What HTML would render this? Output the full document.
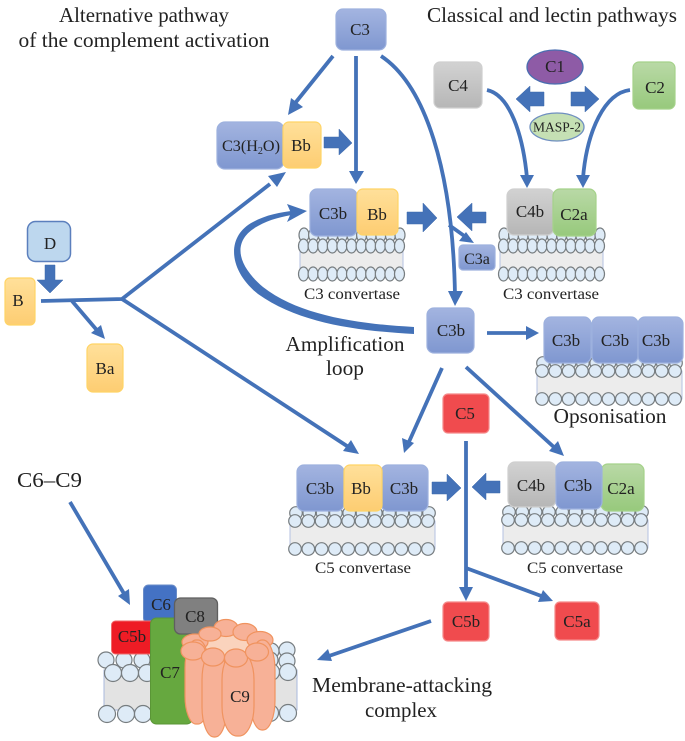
<!DOCTYPE html>
<html><head><meta charset="utf-8"><style>
html,body{margin:0;padding:0;background:#fff}
svg{display:block;filter:blur(.35px)}
text{font-family:"Liberation Serif",serif;fill:#222;text-anchor:middle}
.l{font-size:21px}.c{font-size:16px}.b{font-size:17px}
.ln{fill:none;stroke:#4472b8;stroke-width:3.8}
.ar{fill:#4472b8;stroke:none}
.blk{fill:#4472b8;stroke:#3d68ab;stroke-width:.5}
.lip{fill:#deebf7;stroke:#777d80;stroke-width:1.2}
.bl{fill:url(#gb);stroke:#9db1de;stroke-width:1.2}
.or{fill:url(#go);stroke:#ffd466;stroke-width:1.2}
.gr{fill:url(#gg);stroke:#cfcfcf;stroke-width:1.2}
.gn{fill:url(#gn);stroke:#a5d28a;stroke-width:1.2}
.rd{fill:#f04b4e;stroke:#f58a8a;stroke-width:1.2}
.pk{fill:#f7b197;stroke:#f0935f;stroke-width:1.2}
</style></head><body>
<svg width="685" height="741" viewBox="0 0 685 741" xmlns="http://www.w3.org/2000/svg">
<defs>
<linearGradient id="gb" x1="0" y1="0" x2="0" y2="1"><stop offset="0" stop-color="#a3b4e0"/><stop offset="1" stop-color="#7f97d0"/></linearGradient>
<linearGradient id="go" x1="0" y1="0" x2="0" y2="1"><stop offset="0" stop-color="#ffe09a"/><stop offset="1" stop-color="#fdcd72"/></linearGradient>
<linearGradient id="gg" x1="0" y1="0" x2="0" y2="1"><stop offset="0" stop-color="#d2d2d2"/><stop offset="1" stop-color="#b6b6b6"/></linearGradient>
<linearGradient id="gn" x1="0" y1="0" x2="0" y2="1"><stop offset="0" stop-color="#b9d9a6"/><stop offset="1" stop-color="#97c97c"/></linearGradient>
<g id="r3">
<ellipse class="lip" cx="0" cy="0" rx="5" ry="7"/><ellipse class="lip" cx="9.6" cy="0" rx="5" ry="7"/><ellipse class="lip" cx="19.2" cy="0" rx="5" ry="7"/><ellipse class="lip" cx="28.8" cy="0" rx="5" ry="7"/><ellipse class="lip" cx="38.4" cy="0" rx="5" ry="7"/><ellipse class="lip" cx="48" cy="0" rx="5" ry="7"/><ellipse class="lip" cx="57.6" cy="0" rx="5" ry="7"/><ellipse class="lip" cx="67.2" cy="0" rx="5" ry="7"/><ellipse class="lip" cx="76.8" cy="0" rx="5" ry="7"/><ellipse class="lip" cx="86.4" cy="0" rx="5" ry="7"/><ellipse class="lip" cx="96" cy="0" rx="5" ry="7"/>
</g>
<g id="m3">
<rect x="0" y="0" width="103" height="28" fill="#ececec" stroke="#b4c2e2" stroke-width="1"/>
<use href="#r3" x="4" y="-11"/><use href="#r3" x="3.500" y="0"/><use href="#r3" x="3.500" y="28"/>
</g>
<g id="r5">
<circle class="lip" cx="0" cy="0" r="6.3"/><circle class="lip" cx="13.3" cy="0" r="6.3"/><circle class="lip" cx="26.6" cy="0" r="6.3"/><circle class="lip" cx="39.9" cy="0" r="6.3"/><circle class="lip" cx="53.2" cy="0" r="6.3"/><circle class="lip" cx="66.5" cy="0" r="6.3"/><circle class="lip" cx="79.8" cy="0" r="6.3"/><circle class="lip" cx="93.1" cy="0" r="6.3"/><circle class="lip" cx="106.4" cy="0" r="6.3"/><circle class="lip" cx="119.7" cy="0" r="6.3"/><circle class="lip" cx="133" cy="0" r="6.3"/>
</g>
<g id="m5">
<rect x="0" y="0" width="145" height="28" fill="#ececec" stroke="#b4c2e2" stroke-width="1"/>
<use href="#r5" x="6" y="-8"/><use href="#r5" x="5" y="0"/><use href="#r5" x="5" y="28"/>
</g>
</defs>

<!-- titles -->
<text class="l" x="144" y="22" textLength="170" lengthAdjust="spacingAndGlyphs">Alternative pathway</text>
<text class="l" x="144" y="47" textLength="251" lengthAdjust="spacingAndGlyphs">of the complement activation</text>
<text class="l" x="552" y="22" textLength="250" lengthAdjust="spacingAndGlyphs">Classical and lectin pathways</text>

<!-- membranes -->
<use href="#m3" x="300" y="246"/>
<use href="#m3" x="500" y="246"/>
<use href="#m5" x="537" y="371"/>
<use href="#m5" x="290" y="521"/>
<use href="#m5" x="503" y="520"/>

<!-- connectors -->
<path class="ln" d="M333 56 L292 107"/><path class="ar" d="M288 115 L291 98 L303 107Z"/>
<path class="ln" d="M356 56 L356 176"/><path class="ar" d="M356 184 L349 171 L364 171Z"/>
<path class="ln" d="M381 56 C425 85 453 170 455 296"/><path class="ar" d="M455 306 L448 291 L463 291Z"/>
<path class="ln" d="M449 225 L470 240"/><path class="ar" d="M474 243 L459 241 L466 232Z"/>
<path class="ln" d="M487 90 C510 95 523 135 527 178"/><path class="ar" d="M527 188 L520 175 L534 175Z"/>
<path class="ln" d="M630 90 C605 93 587 130 583 178"/><path class="ar" d="M583 188 L576 175 L590 175Z"/>
<path class="ln" d="M41 301 L122 299 L270 184"/><path class="ar" d="M286 172 L277 187 L268 176Z"/>
<path class="ln" d="M122 299 L350 448"/><path class="ar" d="M359 454 L343 451 L351 440Z"/>
<path class="ln" d="M72 301 L101 335"/><path class="ar" d="M105 339 L91 333 L101 325Z"/>
<path d="M414 327 C360 324 300 316 263 287 C236 264 232 240 258 226 C270 219 282 217 296 214 L296 210.500 C280 212 266 215 253 222 C226 236 228 270 258 294 C300 324 360 331 414 334Z" fill="#4472b8"/>
<path class="ar" d="M307 211 L287 222 L291 213 L287 204Z"/>
<path class="ln" d="M487 333 L530 333"/><path class="ar" d="M539 333 L526 326 L526 340Z"/>
<path class="ln" d="M442 368 L408 444"/><path class="ar" d="M404 453 L402 438 L414 443Z"/>
<path class="ln" d="M466 367 L556 449"/><path class="ar" d="M564 456 L549 451 L558 441Z"/>
<path class="ln" d="M466 441 L466 592"/><path class="ar" d="M466 601 L459 587 L473 587Z"/>
<path class="ln" d="M466 568 L544 597"/><path class="ar" d="M553 601 L538 602 L543 590Z"/>
<path class="ln" d="M70 502 L126 597"/><path class="ar" d="M130 605 L118 596 L129 589Z"/>
<path class="ln" d="M431 621 L326 657"/><path class="ar" d="M317 660 L328 649 L332 661Z"/>

<!-- block arrows -->
<path class="blk" d="M45 265 H55 V280 H63 L50 293 L37 280 H45Z"/>
<path class="blk" d="M324 137 H339 V129 L352 143 L339 155 V148 H324Z"/>
<path class="blk" d="M407 212 H423 V203 L437 218 L423 232 V224 H407Z"/>
<path class="blk" d="M486 212 H472 V203 L457 217 L472 231 V223 H486Z"/>
<path class="blk" d="M544 92 H530 V86 L516 99 L530 112 V106 H544Z"/>
<path class="blk" d="M571 92 H585 V86 L599 99 L585 112 V106 H571Z"/>
<path class="blk" d="M432 482 H447 V474 L461 488 L447 501 V494 H432Z"/>
<path class="blk" d="M500 481 H486 V473 L472 487 L486 500 V493 H500Z"/>

<!-- top / standalone boxes -->
<rect class="bl" x="336" y="9" width="50" height="41" rx="7"/><text class="b" x="360" y="35">C3</text>
<rect class="gr" x="434" y="62" width="48" height="46" rx="6"/><text class="b" x="458" y="91">C4</text>
<rect class="gn" x="633" y="62" width="42" height="47" rx="6"/><text class="b" x="655" y="93">C2</text>
<ellipse cx="555" cy="67" rx="28" ry="17" fill="#8e5ba6" stroke="#4a6eb0" stroke-width="1.3"/><text class="b" x="555" y="72">C1</text>
<ellipse cx="557" cy="127" rx="27" ry="14" fill="#c5e0b4" stroke="#6f8fc0" stroke-width="1.3"/><text x="557" y="131.500" font-size="13.500">MASP-2</text>

<rect class="bl" x="217" y="122" width="67" height="47" rx="8"/><text x="251" y="151" font-size="16" textLength="58" lengthAdjust="spacingAndGlyphs">C3(H<tspan font-size="10" dy="3">2</tspan><tspan dy="-3">O)</tspan></text>
<rect class="or" x="283" y="122" width="38" height="46" rx="6"/><text class="b" x="301" y="151">Bb</text>

<rect class="bl" x="310" y="189" width="47" height="47" rx="7"/><text class="b" x="333" y="219">C3b</text>
<rect class="or" x="357" y="189" width="41" height="46" rx="6"/><text class="b" x="377" y="220">Bb</text>
<rect class="gr" x="507" y="189" width="47" height="46" rx="7"/><text class="b" x="530" y="217">C4b</text>
<rect class="gn" x="553" y="189" width="43" height="47" rx="7"/><text class="b" x="574" y="220">C2a</text>
<rect class="bl" x="459" y="245" width="36" height="25" rx="4"/><text x="477" y="264" font-size="16">C3a</text>

<rect class="bl" x="427" y="308" width="47" height="45" rx="7"/><text class="b" x="451" y="336">C3b</text>
<rect class="bl" x="544" y="317" width="47" height="46" rx="7"/><text class="b" x="566" y="346">C3b</text>
<rect class="bl" x="592" y="317" width="46" height="46" rx="7"/><text class="b" x="615" y="346">C3b</text>
<rect class="bl" x="638" y="317" width="45" height="46" rx="7"/><text class="b" x="656" y="346">C3b</text>

<rect x="27.500" y="221.500" width="43" height="40" rx="8" fill="#bdd7ee" stroke="#5b7fbd" stroke-width="1.500"/><text class="b" x="50" y="249">D</text>
<rect class="or" x="5" y="278" width="30" height="47" rx="5"/><text class="b" x="18" y="306">B</text>
<rect class="or" x="87" y="344" width="36" height="48" rx="6"/><text class="b" x="105" y="374">Ba</text>

<rect class="rd" x="443" y="394" width="46" height="39" rx="5"/><text class="b" x="465" y="419">C5</text>

<rect class="bl" x="297" y="465" width="47" height="46" rx="7"/><text class="b" x="320" y="494">C3b</text>
<rect class="bl" x="381" y="465" width="47" height="46" rx="7"/><text class="b" x="404" y="494">C3b</text>
<rect class="or" x="344" y="465" width="38" height="46" rx="6"/><text class="b" x="361" y="494">Bb</text>
<rect class="gr" x="508" y="462" width="48" height="45" rx="7"/><text class="b" x="531" y="491">C4b</text>
<rect class="gn" x="601" y="464" width="43" height="47" rx="7"/><text class="b" x="621" y="494">C2a</text>
<rect class="bl" x="556" y="462" width="46" height="47" rx="7"/><text class="b" x="578" y="491">C3b</text>

<rect class="rd" x="443" y="602" width="46" height="39" rx="5"/><text class="b" x="466" y="627">C5b</text>
<rect class="rd" x="555" y="602" width="44" height="38" rx="5"/><text class="b" x="577" y="627">C5a</text>

<!-- labels -->
<text class="c" x="352" y="299" textLength="96" lengthAdjust="spacingAndGlyphs">C3 convertase</text>
<text class="c" x="551" y="299" textLength="96" lengthAdjust="spacingAndGlyphs">C3 convertase</text>
<text class="c" x="363" y="573" textLength="96" lengthAdjust="spacingAndGlyphs">C5 convertase</text>
<text class="c" x="575" y="573" textLength="96" lengthAdjust="spacingAndGlyphs">C5 convertase</text>
<text class="l" x="345" y="351" textLength="119" lengthAdjust="spacingAndGlyphs">Amplification</text>
<text class="l" x="345" y="375" textLength="38" lengthAdjust="spacingAndGlyphs">loop</text>
<text class="l" x="610" y="423" textLength="113" lengthAdjust="spacingAndGlyphs">Opsonisation</text>
<text class="l" x="49.500" y="487" textLength="65" lengthAdjust="spacingAndGlyphs">C6–C9</text>
<text class="l" x="402" y="692" textLength="180" lengthAdjust="spacingAndGlyphs">Membrane-attacking</text>
<text class="l" x="401" y="717" textLength="72" lengthAdjust="spacingAndGlyphs">complex</text>

<!-- MAC -->
<rect x="104" y="670" width="193" height="40" fill="#e3e3e3" stroke="#a8b8dc" stroke-width="1"/>
<circle class="lip" cx="106" cy="660" r="8"/><circle class="lip" cx="124" cy="660" r="8"/><circle class="lip" cx="142" cy="660" r="8"/>
<circle class="lip" cx="271" cy="651" r="8"/><circle class="lip" cx="287" cy="650" r="8"/><circle class="lip" cx="287" cy="661" r="8"/><circle class="lip" cx="270" cy="660" r="8"/>
<circle class="lip" cx="113" cy="673" r="8.500"/><circle class="lip" cx="130" cy="673" r="8.500"/><circle class="lip" cx="147" cy="673" r="8.500"/><circle class="lip" cx="271" cy="672" r="8.500"/><circle class="lip" cx="288" cy="672" r="8.500"/>
<circle class="lip" cx="107" cy="714" r="8.500"/><circle class="lip" cx="126" cy="714" r="8.500"/><circle class="lip" cx="143" cy="714" r="8.500"/><circle class="lip" cx="270" cy="713" r="8.500"/><circle class="lip" cx="288" cy="713" r="8.500"/>

<rect x="143.500" y="585" width="33" height="38" rx="5" fill="#4472c4" stroke="#6a8cc8"/><text class="b" x="161" y="610">C6</text>
<rect x="111.500" y="621" width="45" height="33" rx="4" fill="#ee1c25" stroke="#f06a6a"/><text class="b" x="132" y="642">C5b</text>
<rect x="150.500" y="618" width="42" height="106" rx="6" fill="#66a83f" stroke="#5a9636"/><text class="b" x="170" y="678">C7</text>
<rect x="174.500" y="598" width="43" height="36" rx="6" fill="#808080" stroke="#5f5f5f" stroke-width="1.300"/><text class="b" x="195" y="622">C8</text>

<ellipse cx="227" cy="645" rx="30" ry="12" style="fill:#fad3bd;stroke:#f0935f;stroke-width:1"/>
<ellipse class="pk" cx="195" cy="642" rx="13" ry="8"/><ellipse class="pk" cx="226" cy="628" rx="12" ry="8.500"/><ellipse class="pk" cx="245" cy="632" rx="12" ry="8.500"/><ellipse class="pk" cx="260" cy="640" rx="13" ry="8.500"/><ellipse class="pk" cx="210" cy="634" rx="11" ry="7"/>
<rect class="pk" x="250" y="640" width="25" height="90" rx="12" ry="30"/>
<rect class="pk" x="185" y="640" width="24" height="84" rx="11" ry="28"/>
<rect class="pk" x="202" y="650" width="25" height="87" rx="12" ry="30"/>
<rect class="pk" x="222" y="650" width="32" height="86" rx="15" ry="30"/>
<ellipse class="pk" cx="193" cy="651" rx="12" ry="9"/><ellipse class="pk" cx="213" cy="657" rx="11.500" ry="9"/><ellipse class="pk" cx="236" cy="658" rx="11.500" ry="9"/><ellipse class="pk" cx="257" cy="652" rx="11.500" ry="9"/>
<text class="b" x="240" y="702">C9</text>
</svg>
</body></html>
